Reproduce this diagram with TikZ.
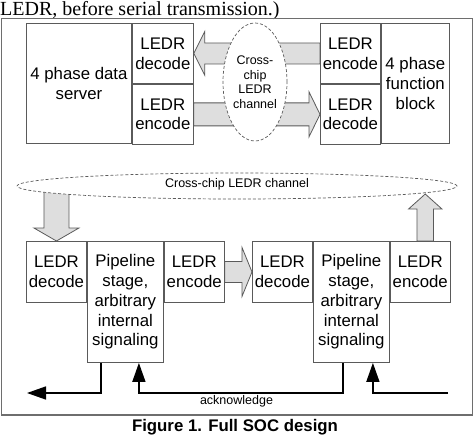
\documentclass[tikz,border=0pt]{standalone}
\usepackage{fontspec}
\setmainfont{Liberation Sans}
\newfontfamily\serifpart{Liberation Serif}
\usetikzlibrary{calc,positioning,backgrounds,arrows.meta,shapes.geometric}
\definecolor{linegray}{RGB}{90,90,90}
\definecolor{arrowgray}{RGB}{222,222,222}
\definecolor{framegray}{RGB}{110,110,110}
\tikzstyle{box}    = [draw=linegray, line width=0.9pt, fill=white, inner sep=0pt, anchor=north west, align=center, font=\fontsize{16.8}{19.8}\selectfont]
\tikzstyle{chan}   = [ellipse, draw=linegray, dashed, dash pattern=on 3pt off 2pt, line width=0.7pt, fill=white, inner sep=0pt, align=center, font=\fontsize{12.5}{14.5}\selectfont]
\tikzstyle{fat}    = [draw=linegray, fill=arrowgray, line width=0.8pt, line join=miter]
\tikzstyle{ack}    = [line width=1.6pt, -{Triangle[length=19pt,width=13pt]}]
\tikzstyle{small}  = [inner sep=0pt, font=\fontsize{12.5}{14.5}\selectfont]

% fat arrow: start, end, shaft half width, head half width, head length
\newcommand{\fatarrow}[5]{%
  \path (#1); \pgfgetlastxy{\fax}{\fay}%
  \path (#2); \pgfgetlastxy{\fbx}{\fby}%
  \pgfmathsetmacro\faang{atan2(\fby-\fay,\fbx-\fax)}%
  \pgfmathsetmacro\falen{veclen(\fbx-\fax,\fby-\fay)}%
  \draw[fat, shift={(\fax,\fay)}, rotate=\faang]
    (0pt,#3pt) -- (\falen pt-#5pt,#3pt) -- (\falen pt-#5pt,#4pt) -- (\falen pt,0pt)
    -- (\falen pt-#5pt,-#4pt) -- (\falen pt-#5pt,-#3pt) -- (0pt,-#3pt) -- cycle;}

\begin{document}
\begin{tikzpicture}[x=1pt,y=-1pt]
        \useasboundingbox (0,0) rectangle (474,436);
        \clip (0,0) rectangle (474,436);

        \node[anchor=base west, inner sep=0pt, font=\serifpart\fontsize{20}{24}\selectfont] (prevtext) at (0,15.5) {LEDR, before serial transmission.)};
        \draw[framegray, line width=1.5pt] (1.5,18.5) rectangle (472.5,415);

        % upper part
        \node[box, minimum width=105, minimum height=120] (server) at (26,23) {4 phase data\\server};
        \node[box, minimum width=61, minimum height=60] (dec1) at (server.north east) {LEDR\\decode};
        \node[box, minimum width=61, minimum height=60] (enc1) at (dec1.south west) {LEDR\\encode};
        \node[box, minimum width=60, minimum height=60] (enc2) at (320,23) {LEDR\\encode};
        \node[box, minimum width=60, minimum height=60] (dec2) at (enc2.south west) {LEDR\\decode};
        \node[box, minimum width=68, minimum height=120] (func) at (enc2.north east) {4 phase\\function\\block};
        \node[chan, minimum width=64, minimum height=118] (chantop) at (255,82) {Cross-\\chip\\LEDR\\channel};

        % lower part
        \node[chan, minimum width=440, minimum height=26] (chanbot) at (237,186) {};
        \node[small] (chanlab) at (237,184) {Cross-chip LEDR channel};
        \node[box, minimum width=60, minimum height=61] (bdec1) at (26,241) {LEDR\\decode};
        \node[box, minimum width=76, minimum height=121] (pipe1) at (bdec1.north east) {Pipeline\\stage,\\arbitrary\\internal\\signaling};
        \node[box, minimum width=60, minimum height=61] (benc1) at (pipe1.north east) {LEDR\\encode};
        \node[box, minimum width=60, minimum height=61] (bdec2) at (252,241) {LEDR\\decode};
        \node[box, minimum width=76, minimum height=121] (pipe2) at (bdec2.north east) {Pipeline\\stage,\\arbitrary\\internal\\signaling};
        \node[box, minimum width=60, minimum height=61] (benc2) at (pipe2.north east) {LEDR\\encode};

        \coordinate (downtop) at (bdec1.north |- chanbot.center);
        \coordinate (upfoot) at ($(benc2.north)+(5,0)$);
        \coordinate (uptip) at ($(upfoot)+(0,-47)$);

        \begin{scope}[on background layer]
            \fatarrow{enc2.west}{dec1.east}{10.5}{22}{11}
            \fatarrow{enc1.east}{dec2.west}{11.5}{22.5}{11}
            \fatarrow{benc1.east}{bdec2.west}{10.5}{24.5}{10}
            \fatarrow{downtop}{bdec1.north}{12.5}{22.5}{13}
            \fatarrow{upfoot}{uptip}{8.3}{16.7}{15}
        \end{scope}

        % acknowledge wires
        \coordinate (p1out) at ($(pipe1.south west)+(14,0)$);
        \coordinate (p1in) at ($(pipe1.south west)+(52,0)$);
        \coordinate (p2out) at ($(pipe2.south west)+(30,0)$);
        \coordinate (p2in) at ($(pipe2.south west)+(60,0)$);
        \coordinate (ackout) at (27,393);
        \coordinate (ackin) at (448,393);
        \draw[ack] (p1out) |- (ackout);
        \draw[ack] (p2out) -- (p2out |- ackout) -| (p1in);
        \draw[ack] (ackin) -| (p2in);
        \node[small] (acklab) at (236.5,401) {acknowledge};

        \node[font=\bfseries\fontsize{16.8}{20}\selectfont] (caption) at (235,427) {Figure 1. Full SOC design};
\end{tikzpicture}
\end{document}
